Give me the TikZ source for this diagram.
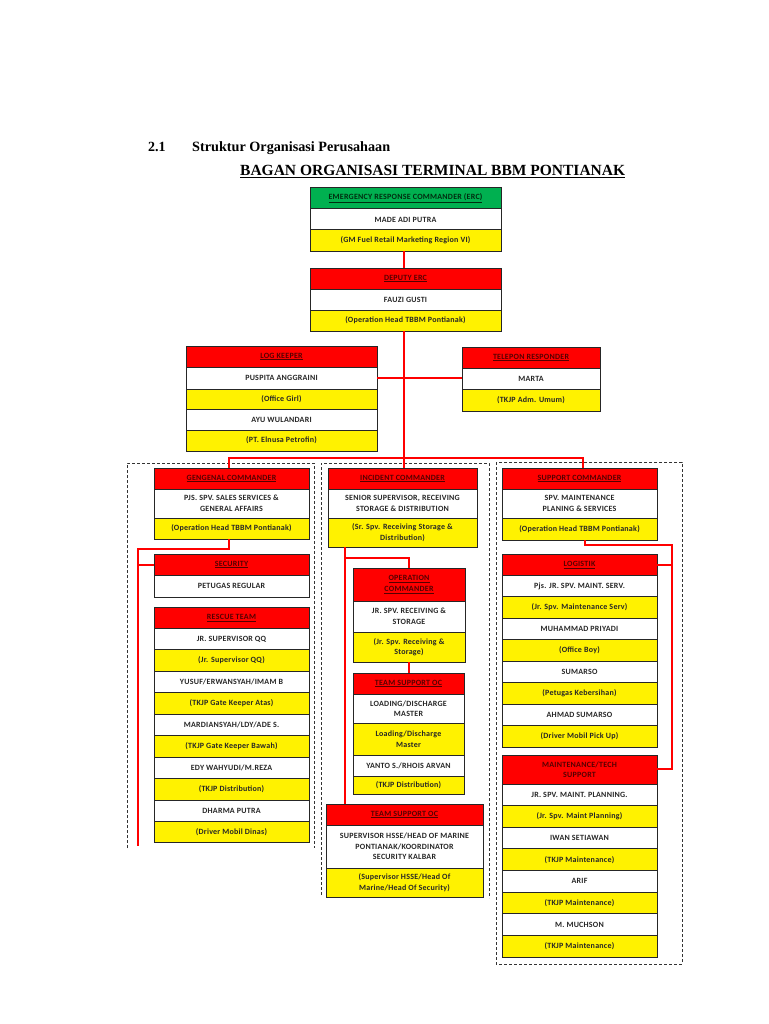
\documentclass[tikz,border=0pt]{standalone}
\usepackage{fontspec}
\setmainfont{Liberation Serif}
\newfontfamily\cfont{Carlito}[LetterSpace=3]
\definecolor{xlgreen}{RGB}{0,176,80}
\definecolor{hdred}{RGB}{85,0,0}
\definecolor{hdgreen}{RGB}{0,45,15}
\newcommand\hd[1]{\textcolor{hdred}{\underline{#1}}}
\newcommand\hg[1]{\textcolor{hdgreen}{\underline{#1}}}
\newcommand\rowb[7]{\node[#2, minimum width=#5pt, minimum height=#6pt, anchor=north west] (#1) at (#3,#4) {#7};}
\tikzset{
 cell/.style={draw=black!85, line width=1pt, inner sep=0pt, outer sep=0pt, align=center,
   font=\cfont\bfseries\fontsize{8pt}{10.5pt}\selectfont, text=black!85},
 rh/.style={cell, fill=red},
 gh/.style={cell, fill=xlgreen},
 wr/.style={cell, fill=white},
 yr/.style={cell, fill=yellow},
 link/.style={draw=red, line width=1.6pt},
 dbox/.style={draw=black!80, line width=0.9pt, dash pattern=on 3pt off 2pt},
}
\begin{document}
\begin{tikzpicture}[x=1pt,y=-1pt]
\useasboundingbox[fill=white] (0,0) rectangle (768,1024);
% titles
\node[anchor=base west, inner sep=0, font=\bfseries\fontsize{14pt}{16pt}\selectfont] (num) at (148,152) {2.1};
\node[anchor=base west, inner sep=0, font=\bfseries\fontsize{14.2pt}{16pt}\selectfont] (ttl) at (192,152) {Struktur Organisasi Perusahaan};
\node[anchor=base west, inner sep=0, font=\bfseries\fontsize{15.5pt}{18pt}\selectfont] (sub) at (240,176) {\underline{BAGAN ORGANISASI TERMINAL BBM PONTIANAK}};
% dashed group frames
\draw[dbox] (127,848) -- (127,463) -- (314,463) -- (314,848);
\draw[dbox] (321,895) -- (321,463) -- (489,463) -- (489,898);
\draw[dbox] (496,462) rectangle (682,964);
% ERC
\rowb{erc}{gh}{310}{188}{191}{21}{\hg{EMERGENCY RESPONSE COMMANDER (ERC)}}
\rowb{erc1}{wr}{310}{209}{191}{21}{MADE ADI PUTRA}
\rowb{erc2}{yr}{310}{230}{191}{21}{(GM Fuel Retail Marketing Region VI)}
% Deputy
\rowb{dep}{rh}{310}{268}{191}{21}{\hd{DEPUTY ERC}}
\rowb{dep1}{wr}{310}{289}{191}{21}{FAUZI GUSTI}
\rowb{dep2}{yr}{310}{310}{191}{21}{(Operation Head TBBM Pontianak)}
% Log keeper
\rowb{lk}{rh}{186}{346}{191}{21}{\hd{LOG KEEPER}}
\rowb{lk1}{wr}{186}{367}{191}{22}{PUSPITA ANGGRAINI}
\rowb{lk2}{yr}{186}{389}{191}{20}{(Office Girl)}
\rowb{lk3}{wr}{186}{409}{191}{21}{AYU WULANDARI}
\rowb{lk4}{yr}{186}{430}{191}{21}{(PT. Elnusa Petrofin)}
% Telepon
\rowb{tel}{rh}{462}{347}{138}{21}{\hd{TELEPON RESPONDER}}
\rowb{tel1}{wr}{462}{368}{138}{21}{MARTA}
\rowb{tel2}{yr}{462}{389}{138}{22}{(TKJP Adm. Umum)}
% General commander
\rowb{gc}{rh}{154}{468}{155}{21}{\hd{GENGENAL COMMANDER}}
\rowb{gc1}{wr}{154}{489}{155}{29}{PJS. SPV. SALES SERVICES \&\\GENERAL AFFAIRS}
\rowb{gc2}{yr}{154}{518}{155}{21}{(Operation Head TBBM Pontianak)}
% Security
\rowb{sec}{rh}{154}{554}{155}{21}{\hd{SECURITY}}
\rowb{sec1}{wr}{154}{575}{155}{22}{PETUGAS REGULAR}
% Rescue team
\rowb{rt}{rh}{154}{607}{155}{21.45}{\hd{RESCUE TEAM}}
\rowb{rt1}{wr}{154}{628.45}{155}{21.45}{JR. SUPERVISOR QQ}
\rowb{rt2}{yr}{154}{649.9}{155}{21.45}{(Jr. Supervisor QQ)}
\rowb{rt3}{wr}{154}{671.35}{155}{21.45}{YUSUF/ERWANSYAH/IMAM B}
\rowb{rt4}{yr}{154}{692.8}{155}{21.45}{(TKJP Gate Keeper Atas)}
\rowb{rt5}{wr}{154}{714.25}{155}{21.45}{MARDIANSYAH/LDY/ADE S.}
\rowb{rt6}{yr}{154}{735.7}{155}{21.45}{(TKJP Gate Keeper Bawah)}
\rowb{rt7}{wr}{154}{757.15}{155}{21.45}{EDY WAHYUDI/M.REZA}
\rowb{rt8}{yr}{154}{778.6}{155}{21.45}{(TKJP Distribution)}
\rowb{rt9}{wr}{154}{800.05}{155}{21.45}{DHARMA PUTRA}
\rowb{rt10}{yr}{154}{821.5}{155}{21.45}{(Driver Mobil Dinas)}
% Incident commander
\rowb{ic}{rh}{328}{468}{149}{21}{\hd{INCIDENT COMMANDER}}
\rowb{ic1}{wr}{328}{489}{149}{29}{SENIOR SUPERVISOR, RECEIVING\\STORAGE \& DISTRIBUTION}
\rowb{ic2}{yr}{328}{518}{149}{29}{(Sr. Spv. Receiving Storage \&\\Distribution)}
% Operation commander
\rowb{opc}{rh}{353}{568}{112}{33}{\hd{OPERATION}\\\hd{COMMANDER}}
\rowb{opc1}{wr}{353}{601}{112}{31}{JR. SPV. RECEIVING \&\\STORAGE}
\rowb{opc2}{yr}{353}{632}{112}{30}{(Jr. Spv. Receiving \&\\Storage)}
% Team support OC 1
\rowb{ts}{rh}{353}{673}{111}{21}{\hd{TEAM SUPPORT OC}}
\rowb{ts1}{wr}{353}{694}{111}{29}{LOADING/DISCHARGE\\MASTER}
\rowb{ts2}{yr}{353}{723}{111}{32}{Loading/Discharge\\Master}
\rowb{ts3}{wr}{353}{755}{111}{21}{YANTO S./RHOIS ARVAN}
\rowb{ts4}{yr}{353}{776}{111}{18}{(TKJP Distribution)}
% Team support OC 2
\rowb{tsb}{rh}{326}{804}{157}{21}{\hd{TEAM SUPPORT OC}}
\rowb{tsb1}{wr}{326}{825}{157}{43}{SUPERVISOR HSSE/HEAD OF MARINE\\PONTIANAK/KOORDINATOR\\SECURITY KALBAR}
\rowb{tsb2}{yr}{326}{868}{157}{29}{(Supervisor HSSE/Head Of\\Marine/Head Of Security)}
% Support commander
\rowb{sc}{rh}{502}{468}{155}{21}{\hd{SUPPORT COMMANDER}}
\rowb{sc1}{wr}{502}{489}{155}{29}{SPV. MAINTENANCE\\PLANING \& SERVICES}
\rowb{sc2}{yr}{502}{518}{155}{22}{(Operation Head TBBM Pontianak)}
% Logistik
\rowb{log}{rh}{502}{554}{155}{21.44}{\hd{LOGISTIK}}
\rowb{log1}{wr}{502}{575.44}{155}{21.44}{Pjs. JR. SPV. MAINT. SERV.}
\rowb{log2}{yr}{502}{596.89}{155}{21.44}{(Jr. Spv. Maintenance Serv)}
\rowb{log3}{wr}{502}{618.33}{155}{21.44}{MUHAMMAD PRIYADI}
\rowb{log4}{yr}{502}{639.78}{155}{21.44}{(Office Boy)}
\rowb{log5}{wr}{502}{661.22}{155}{21.44}{SUMARSO}
\rowb{log6}{yr}{502}{682.67}{155}{21.44}{(Petugas Kebersihan)}
\rowb{log7}{wr}{502}{704.11}{155}{21.44}{AHMAD SUMARSO}
\rowb{log8}{yr}{502}{725.56}{155}{21.44}{(Driver Mobil Pick Up)}
% Maintenance / tech support
\rowb{mt}{rh}{502}{755}{155}{29}{\textcolor{hdred}{MAINTENANCE/TECH}\\\textcolor{hdred}{SUPPORT}}
\rowb{mt1}{wr}{502}{784}{155}{21.63}{JR. SPV. MAINT. PLANNING.}
\rowb{mt2}{yr}{502}{805.63}{155}{21.62}{(Jr. Spv. Maint Planning)}
\rowb{mt3}{wr}{502}{827.25}{155}{21.63}{IWAN SETIAWAN}
\rowb{mt4}{yr}{502}{848.88}{155}{21.62}{(TKJP Maintenance)}
\rowb{mt5}{wr}{502}{870.5}{155}{21.63}{ARIF}
\rowb{mt6}{yr}{502}{892.13}{155}{21.62}{(TKJP Maintenance)}
\rowb{mt7}{wr}{502}{913.75}{155}{21.63}{M. MUCHSON}
\rowb{mt8}{yr}{502}{935.38}{155}{21.62}{(TKJP Maintenance)}
% connector helper coordinates
\coordinate (spine) at (404,0);
\coordinate (hbar) at (404,458);
\coordinate (lv) at (138,549);
\coordinate (lvend) at (138,846);
\coordinate (icl) at (345,558);
\coordinate (rv) at (672,545);
% connectors
\draw[link] (erc2.south -| spine) -- (dep.north -| spine);
\draw[link] (dep2.south -| spine) -- (ic.north -| spine);
\draw[link] (lk1.east) -- (lk1.east -| tel1.west);
\draw[link] ([xshift=-2.5pt]gc.north) |- (hbar) -| ([xshift=3.5pt]sc.north);
\draw[link] ([xshift=-2.5pt]gc2.south) |- (lv) -- (lvend);
\draw[link] ([yshift=-0.5pt]sec.west) -- ([yshift=-0.5pt]sec.west -| lv);
\draw[link] (ic2.south -| icl) -- (tsb.north -| icl);
\draw[link] (icl) -| (opc.north);
\draw[link] (opc2.south) -- (opc2.south |- ts.north);
\draw[link] ([xshift=5.5pt]sc2.south) |- (rv) |- ([yshift=0.5pt]mt.east);
\draw[link] ([yshift=-0.28pt]log.east) -- ([yshift=-0.28pt]log.east -| rv);
\end{tikzpicture}
\end{document}
